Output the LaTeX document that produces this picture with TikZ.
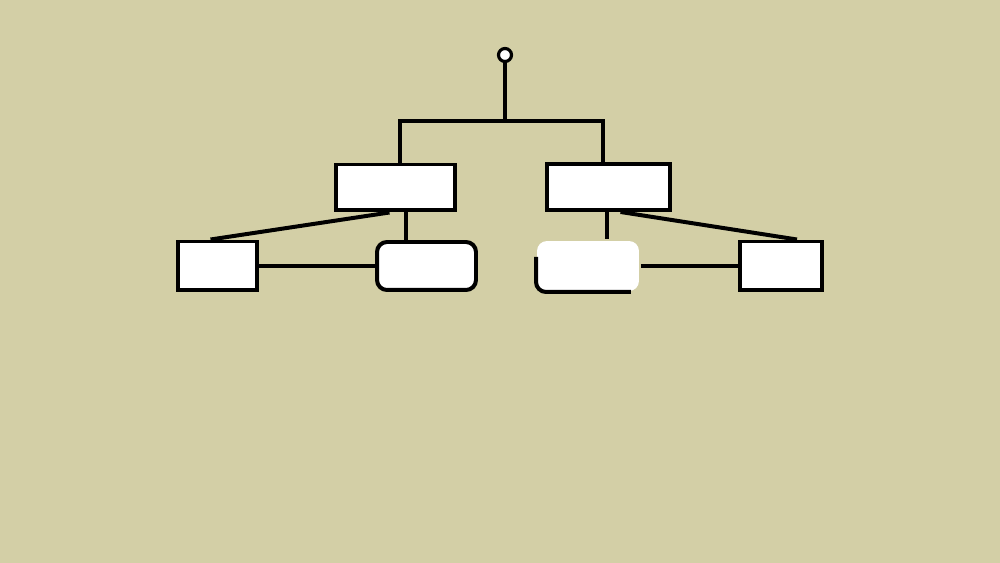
\documentclass[tikz,border=0pt]{standalone}
\usetikzlibrary{calc}
\definecolor{khaki}{RGB}{211,207,166}
\begin{document}
\begin{tikzpicture}[x=0.02cm,y=-0.02cm,line width=2.27pt,
  box/.style={draw=black,fill=white,inner sep=0pt,minimum width=#1},
  box/.default=1.6cm,
  roundbox/.style={box=#1,rounded corners=0.2cm},
  rootdot/.style={circle,draw=black,fill=white,inner sep=0pt,minimum size=0.26cm,line width=1.8pt}]
\fill[khaki] (0,0) rectangle (1000,563);
% top of the chart
\node[rootdot] (root) at (505,55) {};
\node[box=2.38cm,minimum height=0.92cm] (left) at (395.5,187.5) {};
\node[box=2.46cm,minimum height=0.92cm] (right) at (608.5,187) {};
\coordinate (jl) at (400,121);
\coordinate (jr) at (603,121);
\draw (root.south) -- (root |- jl);
\draw (jl |- left.north) -- (jl) -- (jr) -- (jr |- right.north);
% second row
\node[box=1.58cm,minimum height=0.98cm] (leftA) at (217.5,266) {};
\node[roundbox=1.98cm,minimum height=0.96cm] (leftB) at (426.5,266) {};
\node[roundbox=2.04cm,minimum height=1cm,draw=none] (rightA) at (588,266) {};
\node[box=1.64cm,minimum height=0.98cm] (rightB) at (781,266) {};
% links
\coordinate (ls) at ($(left.south)+(10.5,0)$);
\coordinate (rs) at ($(right.south)+(-1.5,0)$);
\draw ($(left.south)+(-6,0)$) -- ($(leftA.north)+(-7,0)$);
\draw (ls) -- (ls |- leftB.north);
\draw (leftA.east) -- (leftB.west);
\draw (rs) -- (rs |- rightA.north);
\draw ($(right.south)+(12,0)$) -- ($(rightB.north)+(16,0)$);
\draw (rightA.east) -- (rightB.west);
% border of rightA, half drawn
\draw[rounded corners=0.2cm] ($(rightA.west)+(1,-9)$) |- ($(rightA.south east)+(-10,-1)$);
\end{tikzpicture}
\end{document}
